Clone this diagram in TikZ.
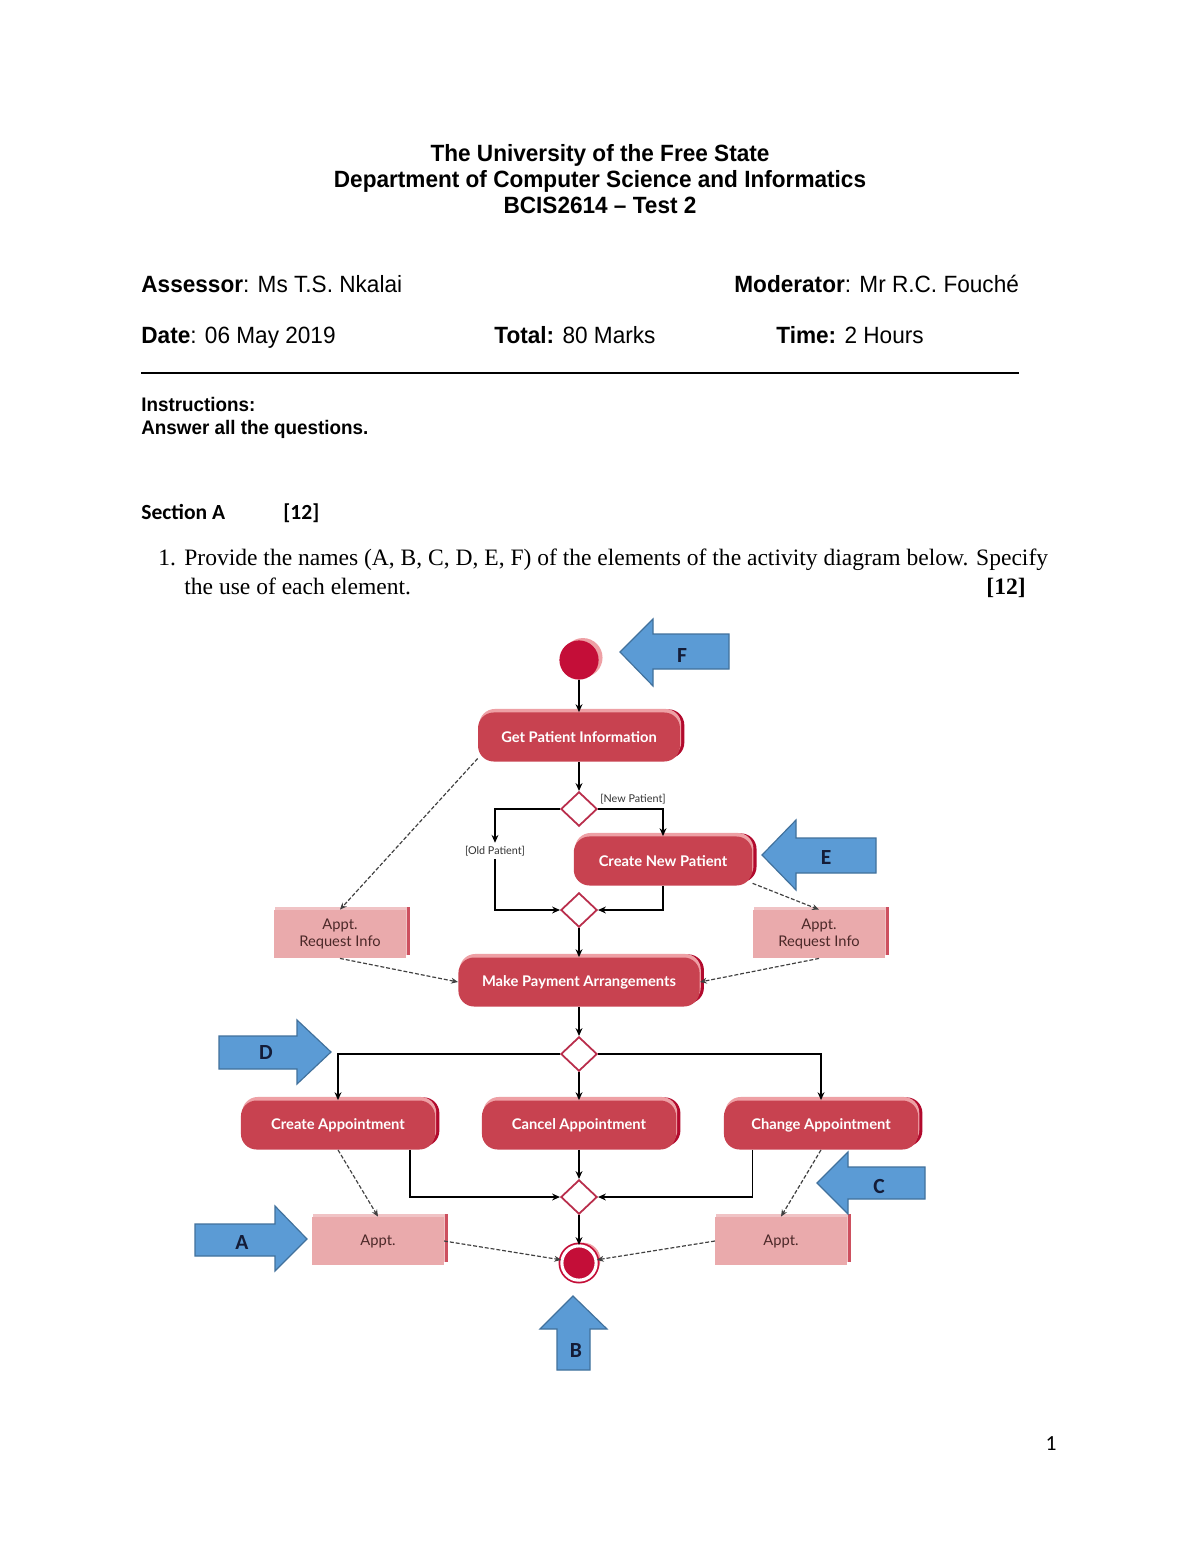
\documentclass[tikz,border=0pt]{standalone}
\usepackage{fontspec}
\setmainfont{Liberation Serif}
\newfontfamily\arial[FakeStretch=0.96]{Liberation Sans}
\newfontfamily\calib{Carlito}
\newfontfamily\diag{Lato}
\usetikzlibrary{shapes.geometric,shadows,arrows.meta}
\definecolor{actfill}{RGB}{200,66,80}
\definecolor{actdark}{RGB}{178,10,45}
\definecolor{actlight}{RGB}{238,160,165}
\definecolor{objfill}{RGB}{234,170,172}
\definecolor{objdark}{RGB}{205,80,95}
\definecolor{objtext}{RGB}{75,40,40}
\definecolor{crim}{RGB}{196,14,56}
\definecolor{diamc}{RGB}{185,45,75}
\definecolor{bluef}{RGB}{91,155,213}
\definecolor{blued}{RGB}{65,113,156}
\definecolor{lettc}{RGB}{20,28,55}
\tikzset{
  act/.style={rounded corners=8pt, fill=actfill, text=white, inner sep=0pt,
    font=\diag\bfseries\fontsize{7.5}{9}\selectfont, minimum height=25pt,
    general shadow={fill=actdark, shadow xshift=2.2pt, shadow yshift=1.6pt},
    general shadow={fill=actlight, shadow xshift=0.6pt, shadow yshift=1.8pt}},
  obj/.style={fill=objfill, text=objtext, align=center, inner sep=0pt,
    font=\diag\fontsize{7.5}{8.5}\selectfont, minimum height=24.5pt, minimum width=67pt,
    general shadow={fill=objdark, shadow xshift=2pt, shadow yshift=1.5pt},
    general shadow={fill=objfill!70!white, shadow xshift=0.5pt, shadow yshift=1.5pt}},
  dec/.style={diamond, draw=diamc, fill=white, line width=0.9pt, inner sep=0pt,
    minimum width=18.5pt, minimum height=17.5pt},
  flow/.style={draw=black, line width=0.9pt, -{Stealth[length=4pt,width=3.5pt]}},
  dep/.style={draw=black!75, line width=0.6pt, dash pattern=on 2pt off 1pt,
    -{Stealth[length=3.5pt,width=3pt]}},
  guard/.style={font=\diag\fontsize{5.5}{6}\selectfont, text=black!80, inner sep=1.5pt},
  blk/.style={fill=bluef, draw=blued, line width=0.6pt},
  blklbl/.style={font=\calib\bfseries\fontsize{11}{12}\selectfont, text=lettc, inner sep=0pt},
  hdr/.style={font=\arial\fontsize{12}{14}\selectfont, inner sep=0pt, anchor=base west},
}
\begin{document}
\begin{tikzpicture}[x=0.51pt,y=-0.51pt]
\useasboundingbox[fill=white] (0,0) rectangle (1200,1553);
% ---- header ----
\node[hdr, anchor=base, font=\arial\bfseries\fontsize{12}{14}\selectfont] (t1) at (600,162) {The University of the Free State};
\node[hdr, anchor=base, font=\arial\bfseries\fontsize{12}{14}\selectfont] (t2) at (600,188) {Department of Computer Science and Informatics};
\node[hdr, anchor=base, font=\arial\bfseries\fontsize{12}{14}\selectfont] (t3) at (600,214) {BCIS2614 – Test 2};
\node[hdr] (ass) at (141,292) {\textbf{Assessor}: Ms T.S. Nkalai};
\node[hdr] (mod) at (734,292) {\textbf{Moderator}: Mr R.C. Fouché};
\node[hdr] (dat) at (141,343) {\textbf{Date}: 06 May 2019};
\node[hdr] (tot) at (494,343) {\textbf{Total:} 80 Marks};
\node[hdr] (tim) at (776,343) {\textbf{Time:} 2 Hours};
\draw[line width=0.8pt] (141,373) -- (1019,373);
\node[hdr, font=\arial\bfseries\fontsize{10}{12}\selectfont] (ins) at (141,411) {Instructions:};
\node[hdr, font=\arial\bfseries\fontsize{10}{12}\selectfont] (ans) at (141,434) {Answer all the questions.};
\node[hdr, font=\calib\bfseries\fontsize{11}{13}\selectfont] (sec) at (141,519) {Section A};
\node[hdr, font=\calib\bfseries\fontsize{11}{13}\selectfont] (secm) at (283,519) {[12]};
\node[hdr, font=\fontsize{12}{14}\selectfont] (qn) at (158,565) {1.};
\node[hdr, font=\fontsize{12}{14}\selectfont] (q1) at (184,565) {Provide the names (A, B, C, D, E, F) of the elements of the activity diagram below. Specify};
\node[hdr, font=\fontsize{12}{14}\selectfont] (q2) at (184,594) {the use of each element.};
\node[hdr, anchor=base east, font=\bfseries\fontsize{12}{14}\selectfont] (qm) at (1026,594) {[12]};
\node[hdr, anchor=base, font=\calib\fontsize{11}{13}\selectfont] (pg) at (1051,1450) {1};
% ---- diagram nodes ----
\node[circle, fill=crim, minimum size=20pt, inner sep=0pt,
  general shadow={fill=actlight, shadow xshift=2pt, shadow yshift=1.2pt}] (start) at (579,660) {};
\node[act, minimum width=103pt] (getinfo) at (579,737) {Get Patient Information};
\node[dec] (d1) at (579,809) {};
\node[act, minimum width=91pt] (newp) at (663,861) {Create New Patient};
\node[guard] (newlbl) at (633,799) {[New Patient]};
\node[guard] (oldlbl) at (495,851) {[Old Patient]};
\node[dec] (d2) at (579,910) {};
\node[obj] (reqL) at (340,934) {Appt.\\Request Info};
\node[obj] (reqR) at (819,934) {Appt.\\Request Info};
\node[act, minimum width=123pt] (pay) at (579,982) {Make Payment Arrangements};
\node[dec] (d3) at (579,1054) {};
\node[act, minimum width=99pt] (cra) at (338,1125) {Create Appointment};
\node[act, minimum width=99pt] (cancel) at (579,1125) {Cancel Appointment};
\node[act, minimum width=99pt] (chg) at (821,1125) {Change Appointment};
\node[dec] (d4) at (579,1197) {};
\node[obj] (objA) at (378,1241) {Appt.};
\node[obj] (objC) at (781,1241) {Appt.};
\node[circle, minimum size=17.5pt, inner sep=0pt, fill=crim, draw=crim, double=white,
  double distance=1.6pt, line width=0.9pt,
  general shadow={fill=actlight, shadow xshift=2.2pt, shadow yshift=1.6pt}] (end) at (579,1263) {};
% ---- control flows ----
\draw[flow] (start) -- (getinfo);
\draw[flow] (getinfo) -- (d1);
\draw[flow] (d1.east) -| (newp.north);
\draw[flow] (d1.west) -| (oldlbl.north);
\draw[flow] (oldlbl.south) |- (d2.west);
\draw[flow] (newp.south) |- (d2.east);
\draw[flow] (d2) -- (pay);
\draw[flow] (pay) -- (d3);
\draw[flow] (d3.west) -| (cra.north);
\draw[flow] (d3.east) -| (chg.north);
\draw[flow] (d3) -- (cancel);
\draw[flow] (cra.-19.4) |- (d4.west);
\draw[flow] (chg.-160.1) |- (d4.east);
\draw[flow] (cancel) -- (d4);
\draw[flow] (d4) -- (end);
% ---- object flows ----
\draw[dep] (getinfo.192) -- (reqL.north);
\draw[dep] (reqL.south) -- (pay.west);
\draw[dep] (newp.-14) -- (reqR.north);
\draw[dep] (reqR.south) -- (pay.east);
\draw[dep] (cra.south) -- (objA.north);
\draw[dep] (chg.south) -- (objC.north);
\draw[dep] (objA.east) -- (end.170);
\draw[dep] (objC.west) -- (end.10);
% ---- block arrows ----
\draw[blk] (620,652) -- (653,619) -- (653,634) -- (729,634) -- (729,669) -- (653,669) -- (653,686) -- cycle;
\node[blklbl] (lF) at (682,655) {F};
\draw[blk] (762,855) -- (796,820) -- (796,838) -- (876,838) -- (876,873) -- (796,873) -- (796,890) -- cycle;
\node[blklbl] (lE) at (826,857) {E};
\draw[blk] (331,1052) -- (297,1020) -- (297,1036) -- (219,1036) -- (219,1069) -- (297,1069) -- (297,1084) -- cycle;
\node[blklbl] (lD) at (266,1052) {D};
\draw[blk] (307,1239) -- (275,1206) -- (275,1224) -- (195,1224) -- (195,1256) -- (275,1256) -- (275,1271) -- cycle;
\node[blklbl] (lA) at (242,1242) {A};
\draw[blk] (817,1183) -- (848,1152) -- (848,1167) -- (925,1167) -- (925,1199) -- (848,1199) -- (848,1214) -- cycle;
\node[blklbl] (lC) at (879,1186) {C};
\draw[blk] (573,1296) -- (607,1329) -- (590,1329) -- (590,1370) -- (557,1370) -- (557,1329) -- (540,1329) -- cycle;
\node[blklbl] (lB) at (576,1350) {B};
\end{tikzpicture}
\end{document}
